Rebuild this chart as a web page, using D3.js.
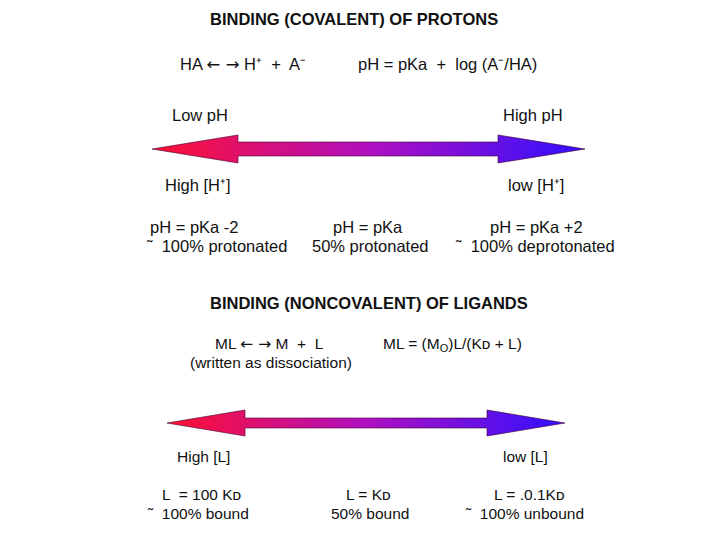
<!DOCTYPE html>
<html><head><meta charset="utf-8">
<script src="https://cdn.jsdelivr.net/npm/d3@7"></script>
<style>body{margin:0;background:#fff}text{font-family:"Liberation Sans",Arial,sans-serif;fill:#111;white-space:pre}</style>
</head><body>
<script>
const titles = ["BINDING (COVALENT) OF PROTONS", "BINDING (NONCOVALENT) OF LIGANDS"];
const labels = [
  // [text, x, y, size]
  ["pH = pKa  +  log (A\u207B/HA)", 358, 70, 16.5],
  ["Low pH", 172, 121, 16.5],
  ["High pH", 503, 121, 16.5],
  ["High [H\u207A]", 165, 191, 16.5],
  ["low [H\u207A]", 508, 191, 16.5],
  ["pH = pKa -2", 150, 233, 16.5],
  ["\u02DC  100% protonated", 147, 252, 16.5],
  ["pH = pKa", 333, 233, 16.5],
  ["50% protonated", 312, 252, 16.5],
  ["pH = pKa +2", 490, 233, 16.5],
  ["\u02DC  100% deprotonated", 456, 252, 16.5],
  ["(written as dissociation)", 190, 368, 15.5],
  ["High [L]", 177, 462, 15.5],
  ["low [L]", 503, 462, 15.5],
  ["L  = 100 K\u1D05", 162, 500, 15.5],
  ["\u02DC  100% bound", 148, 519, 15.5],
  ["L = K\u1D05", 346, 500, 15.5],
  ["50% bound", 331, 519, 15.5],
  ["L = .0.1K\u1D05", 494, 500, 15.5],
  ["\u02DC  100% unbound", 466, 519, 15.5]
];
const equations = [
  ["HA", "H\u207A  +  A\u207B", 180, 70, 16.5],
  ["ML", "M  +  L", 215, 349, 15.5]
];
// arrows: [tipL, baseL, baseR, tipR, yc, headHalf, shaftHalf]
const arrows = [
  [152, 238, 498, 585, 149, 14, 7],
  [167, 245, 487, 565, 423, 13, 5]
];

const svg = d3.select("body").append("svg").attr("width",720).attr("height",540);
const defs = svg.append("defs");
arrows.forEach((a,i)=>{
  const g = defs.append("linearGradient").attr("id","g"+i)
    .attr("gradientUnits","userSpaceOnUse").attr("x1",a[0]).attr("x2",a[3]).attr("y1",0).attr("y2",0);
  g.append("stop").attr("offset","0%").attr("stop-color","#ff1030");
  g.append("stop").attr("offset","50%").attr("stop-color","#b010c0");
  g.append("stop").attr("offset","100%").attr("stop-color","#3010ff");
  const [tl,bl,br,tr,y,h,s]=a;
  const pts=[[tl,y],[bl,y-h],[bl,y-s],[br,y-s],[br,y-h],[tr,y],[br,y+h],[br,y+s],[bl,y+s],[bl,y+h]];
  svg.append("path").attr("d",d3.line()(pts)+"Z").attr("fill","url(#g"+i+")")
    .attr("stroke","#400030").attr("stroke-width",0.6);
});
svg.selectAll("text.t").data(titles).join("text").attr("class","t")
  .attr("x",210).attr("y",(d,i)=>[25,309][i]).attr("font-size",16.5).attr("font-weight","bold").text(d=>d);
svg.selectAll("text.l").data(labels).join("text").attr("class","l")
  .attr("x",d=>d[1]).attr("y",d=>d[2]).attr("font-size",d=>d[3]).text(d=>d[0]);
equations.forEach(e=>{
  const t = svg.append("text").attr("x",e[2]).attr("y",e[3]).attr("font-size",e[4]);
  t.append("tspan").text(e[0]+" ");
  t.append("tspan").attr("font-family","DejaVu Sans").text("\u2190 \u2192");
  t.append("tspan").text(" "+e[1]);
});
const ml = svg.append("text").attr("x",383).attr("y",349).attr("font-size",15.5);
ml.append("tspan").text("ML = (M");
ml.append("tspan").attr("font-size",11).attr("dy",3).text("O");
ml.append("tspan").attr("dy",-3).text(")L/(K\u1D05 + L)");
</script>
</body></html>
